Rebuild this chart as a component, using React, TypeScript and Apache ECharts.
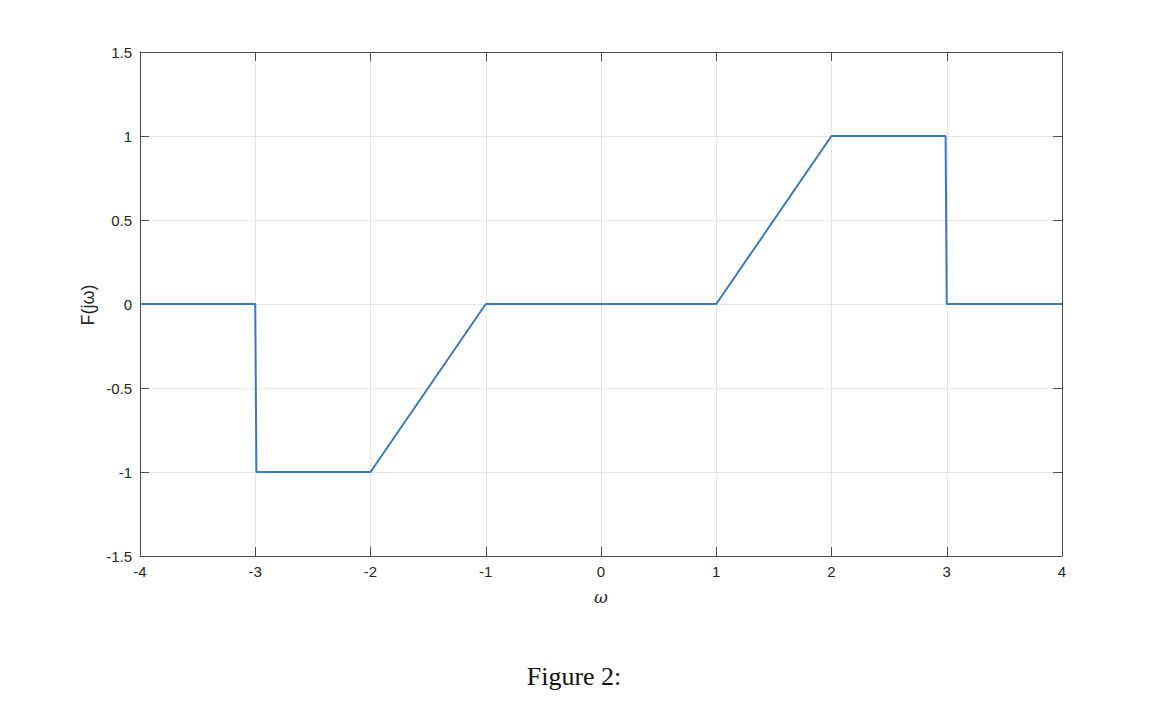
import React, { useEffect, useRef } from "react";
import * as echarts from "echarts";

const omega: number[] = [-4, -3, -2.99, -2, -1, 1, 2, 2.99, 3, 4];
const F: number[] = [0, 0, -1, -1, 0, 0, 1, 1, 0, 0];
const xTicks: number[] = [-4, -3, -2, -1, 0, 1, 2, 3, 4];
const yTicks: number[] = [-1.5, -1, -0.5, 0, 0.5, 1, 1.5];
const xLabel = "ω";
const yLabel = "F(jω)";
const caption = "Figure 2:";

export default function App() {
  const ref = useRef<HTMLDivElement>(null);
  useEffect(() => {
    if (!ref.current) return;
    const chart = echarts.init(ref.current, undefined, { renderer: "svg" });
    const axisColor = "#4d4d4d";
    const gridColor = "#e6e6e6";
    const font = "'Liberation Sans', Arial, Helvetica, sans-serif";
    const tickFmt = (v: number) => String(v);
    const baseX = {
      type: "value" as const,
      min: -4,
      max: 4,
      interval: 1,
      axisLine: { show: true, onZero: false, lineStyle: { color: axisColor, width: 1 } },
      axisTick: { show: true, inside: true, length: 9, lineStyle: { color: axisColor } },
    };
    const baseY = {
      type: "value" as const,
      min: -1.5,
      max: 1.5,
      interval: 0.5,
      axisLine: { show: true, onZero: false, lineStyle: { color: axisColor, width: 1 } },
      axisTick: { show: true, inside: true, length: 9, lineStyle: { color: axisColor } },
    };
    chart.setOption({
      animation: false,
      backgroundColor: "#ffffff",
      grid: { left: 140, right: 112, top: 52, bottom: 156, containLabel: false },
      xAxis: [
        {
          ...baseX,
          position: "bottom",
          axisLabel: {
            show: true,
            color: "#262626",
            fontSize: 15,
            fontFamily: font,
            margin: 8,
            formatter: tickFmt,
            customValues: xTicks,
          },
          splitLine: { show: true, lineStyle: { color: gridColor, width: 1 } },
        },
        {
          ...baseX,
          position: "top",
          axisLabel: { show: false },
          splitLine: { show: false },
        },
      ],
      yAxis: [
        {
          ...baseY,
          position: "left",
          axisLabel: {
            show: true,
            color: "#262626",
            fontSize: 15,
            fontFamily: font,
            margin: 8,
            formatter: tickFmt,
            customValues: yTicks,
          },
          splitLine: { show: true, lineStyle: { color: gridColor, width: 1 } },
        },
        {
          ...baseY,
          position: "right",
          axisLabel: { show: false },
          splitLine: { show: false },
        },
      ],
      series: [
        {
          type: "line",
          xAxisIndex: 0,
          yAxisIndex: 0,
          data: omega.map((x, i) => [x, F[i]]),
          showSymbol: false,
          symbol: "none",
          lineStyle: { color: "#3a78c4", width: 2 },
          clip: true,
        },
      ],
      graphic: [
        {
          type: "text",
          x: 601,
          y: 597,
          style: {
            text: xLabel,
            fontSize: 17,
            fontStyle: "italic",
            fontFamily: "'DejaVu Serif', serif",
            fill: "#262626",
            align: "center",
            verticalAlign: "middle",
          },
        },
        {
          type: "text",
          x: 88,
          y: 305,
          rotation: Math.PI / 2,
          style: {
            text: yLabel,
            fontSize: 18,
            fontFamily: font,
            fill: "#262626",
            align: "center",
            verticalAlign: "middle",
          },
        },
        {
          type: "text",
          x: 574,
          y: 676,
          style: {
            text: caption,
            fontSize: 26,
            fontFamily: "'Liberation Serif', 'DejaVu Serif', serif",
            fill: "#111111",
            align: "center",
            verticalAlign: "middle",
          },
        },
      ],
    });
    return () => chart.dispose();
  }, []);
  return (
    <div
      ref={ref}
      style={{ position: "fixed", left: 0, top: 0, width: 1174, height: 712, background: "#fff" }}
    />
  );
}
